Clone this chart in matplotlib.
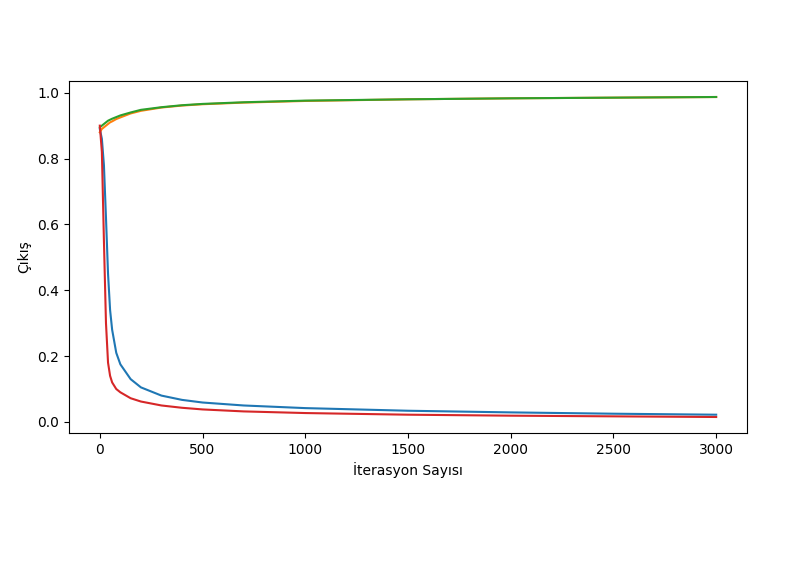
import matplotlib
matplotlib.use("Agg")
import matplotlib.pyplot as plt

iters = [0, 10, 20, 30, 40, 50, 60, 80, 100, 150, 200, 300, 400, 500, 700, 1000, 1500, 2000, 2500, 3000]
blue = [0.89, 0.86, 0.78, 0.62, 0.45, 0.34, 0.28, 0.21, 0.175, 0.13, 0.105, 0.08, 0.067, 0.059, 0.05, 0.042, 0.034, 0.029, 0.025, 0.022]
red = [0.90, 0.82, 0.55, 0.30, 0.18, 0.14, 0.12, 0.10, 0.09, 0.072, 0.062, 0.05, 0.043, 0.038, 0.032, 0.027, 0.022, 0.019, 0.017, 0.015]
orange = [0.88, 0.89, 0.895, 0.90, 0.905, 0.91, 0.913, 0.92, 0.925, 0.937, 0.945, 0.955, 0.961, 0.965, 0.97, 0.975, 0.98, 0.983, 0.985, 0.987]
green = [0.895, 0.90, 0.905, 0.91, 0.915, 0.918, 0.921, 0.926, 0.931, 0.94, 0.948, 0.956, 0.962, 0.966, 0.971, 0.976, 0.98, 0.983, 0.985, 0.987]

fig = plt.figure(figsize=(7.94, 5.64), dpi=100)
ax = fig.add_axes([69/794, 1-433/564, (747-69)/794, (433-81)/564])
ax.plot(iters, blue, color="#1f77b4")
ax.plot(iters, orange, color="#ff7f0e")
ax.plot(iters, green, color="#2ca02c")
ax.plot(iters, red, color="#d62728")
ax.set_xlabel("İterasyon Sayısı")
ax.set_ylabel("Çıkış")
fig.savefig("out.png", dpi=100)
